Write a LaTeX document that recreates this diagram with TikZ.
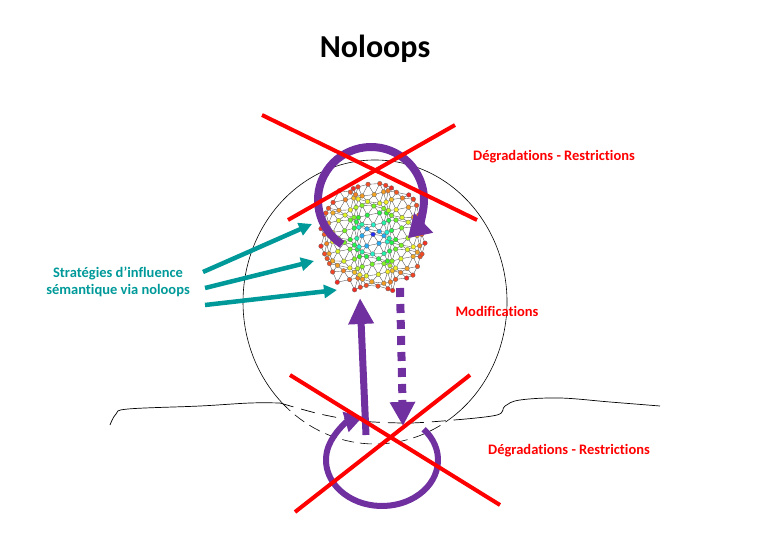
\documentclass[tikz,border=0pt]{standalone}
\usepackage{fontspec}
\setmainfont[RawFeature={-liga;-clig;-dlig}]{Carlito}
\usetikzlibrary{arrows.meta}
\definecolor{redx}{HTML}{FF0000}
\definecolor{purp}{HTML}{7030A0}
\definecolor{tealc}{HTML}{009999}
\newcommand\netpt[2]{%
 \pgfmathsetmacro\lx{8.4*((#1)+0.5*(#2))}%
 \pgfmathsetmacro\ly{8.4*0.866*(#2)}%
 \pgfmathsetmacro\rr{(\lx/57)^2+(\ly/56)^2}%
 \pgfmathsetmacro\px{373+\lx+2.6*sin(97*(#1)+53*(#2))}%
 \pgfmathsetmacro\py{299+\ly+2.6*cos(61*(#1)+131*(#2))}}
\tikzset{
 crossline/.style={draw=redx,line width=4pt},
 lbl/.style={text=redx,font=\fontsize{14.5}{17.5}\selectfont\bfseries},
 tealarrow/.style={draw=tealc,line width=4.5pt,-{Triangle[width=13pt,length=13pt]}},
 loopc/.style={draw=purp,line width=8pt,-{Triangle[width=26pt,length=22pt]}},
 loopb/.style={draw=purp,line width=6pt,-{Triangle[width=20pt,length=18pt]}},
 edge/.style={draw=black!70,line width=0.35pt},
}
\begin{document}
\begin{tikzpicture}[x=1pt,y=1pt]
\useasboundingbox (0,0) rectangle (759,536);
\node[font=\fontsize{32}{36}\selectfont\bfseries] (title) at (375,487) {Noloops};
% big circle
\draw[black,line width=0.6pt,shift={(375,234)}] (-56:132 and 142) arc[start angle=-56,end angle=225,x radius=132,y radius=142];
\draw[black,line width=0.6pt,dashed,dash pattern=on 12pt off 6pt,shift={(375,234)}] (225:132 and 142) arc[start angle=225,end angle=304,x radius=132,y radius=142];
% ground
\draw[black,line width=0.7pt] plot[smooth,tension=0.6] coordinates{(110,111) (116,122) (128,127) (200,130) (250,133) (280,133)};
\draw[black,line width=0.7pt,dash pattern=on 14pt off 8pt] plot[smooth] coordinates{(280,133) (320,122) (360,115) (410,113) (454,116)};
\draw[black,line width=0.7pt] plot[smooth,tension=0.6] coordinates{(454,116) (497,121) (505,130) (520,136) (560,138) (610,134) (660,130)};
% network edges
\foreach \i in {-10,...,10}{\foreach \j in {-8,...,8}{%
 \netpt{\i}{\j}\let\ax\px\let\ay\py\let\ar\rr
 \ifdim\ar pt<1pt
  \foreach \di/\dj in {1/0,0/1,-1/1}{\netpt{\i+\di}{\j+\dj}\ifdim\rr pt<1pt \draw[edge] (\ax,\ay)--(\px,\py);\fi}%
 \fi}}
% network nodes
\foreach \i in {-10,...,10}{\foreach \j in {-8,...,8}{%
 \netpt{\i}{\j}%
 \ifdim\rr pt<1pt
  \pgfmathsetmacro\hh{max(0,min(0.66,0.68*(1-sqrt(\rr))^1.25))}%
  \definecolor{nc}{hsb}{\hh,0.85,0.95}%
  \fill[nc,draw=black!60,line width=0.3pt] (\px,\py) circle[radius=2.3];
 \fi}}
% top loop
\draw[loopc,shift={(371,336)}] (237:53) arc[start angle=237,end angle=-46,radius=53];
% crosses
\coordinate (t1) at (262,421); \coordinate (t2) at (477,316);
\coordinate (t3) at (288,316); \coordinate (t4) at (455,411);
\draw[crossline] (t1)--(t2); \draw[crossline] (t3)--(t4);
% vertical arrows
\coordinate (ua) at (366,101); \coordinate (ub) at (360,238);
\draw[draw=purp,line width=7pt,-{Triangle[width=24pt,length=26pt]}] (ua)--(ub);
\coordinate (da) at (400,248); \coordinate (db) at (403,110);
\draw[draw=purp,line width=8pt,dash pattern=on 9pt off 7pt,-{Triangle[width=24pt,length=24pt]}] (da)--(db);
% bottom loop
\draw[loopb,shift={(382,76)}] (42:56 and 46) arc[start angle=42,end angle=-250,x radius=56,y radius=46];
\coordinate (b1) at (290,161); \coordinate (b2) at (500,31);
\coordinate (b3) at (295,24); \coordinate (b4) at (470,161);
\draw[crossline] (b1)--(b2); \draw[crossline] (b3)--(b4);
% teal arrows
\coordinate (a1) at (203,264); \coordinate (a1e) at (312,312);
\coordinate (a2) at (205,248); \coordinate (a2e) at (314,275);
\coordinate (a3) at (205,231); \coordinate (a3e) at (337,246);
\draw[tealarrow] (a1)--(a1e); \draw[tealarrow] (a2)--(a2e); \draw[tealarrow] (a3)--(a3e);
% labels
\node[lbl] (l1) at (554,379) {Dégradations - Restrictions};
\node[lbl] (l2) at (497,225) {Modifications};
\node[lbl] (l3) at (569,85) {Dégradations - Restrictions};
\node[lbl,text=tealc,align=center] (l4) at (118,254) {Stratégies d’influence\\sémantique via noloops};
\end{tikzpicture}
\end{document}
